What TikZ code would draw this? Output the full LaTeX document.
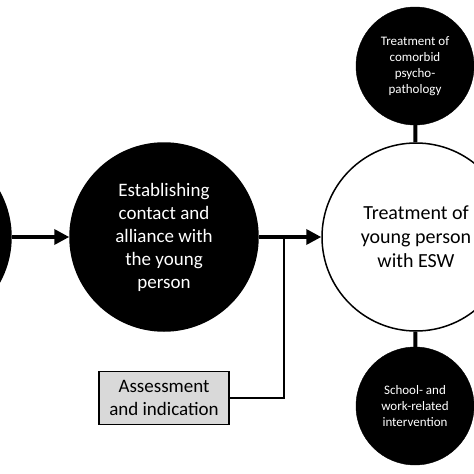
\documentclass[tikz,border=0pt]{standalone}
\usepackage{fontspec}
\setmainfont{Carlito}
\usetikzlibrary{positioning, arrows.meta}

\begin{document}
\begin{tikzpicture}[x=1pt, y=-1pt,
              every node/.style = {align=center},
              stage/.style = {circle, draw, fill=black, text=white,
                minimum size=188pt, inner sep=0pt, line width=1.5pt,
                font=\fontsize{19}{23}\selectfont},
              goal/.style = {circle, draw, fill=white,
                minimum size=188pt, inner sep=0pt, line width=1.5pt,
                font=\fontsize{20}{24}\selectfont},
              branch/.style = {circle, draw, fill=black, text=white,
                minimum size=118pt, inner sep=0pt,
                font=\fontsize{13}{16}\selectfont},
              assess/.style = {rectangle, draw, fill=black!15, line width=1.2pt,
                minimum width=130pt, minimum height=53pt, inner sep=0pt,
                font=\fontsize{19}{23}\selectfont},
              flow/.style = {line width=3.5pt, -{Triangle[length=15pt,width=15pt]}},
              link/.style = {line width=4pt},
              feed/.style = {line width=1.5pt}]
  \useasboundingbox (0,0) rectangle (474,474);
  \clip (0,0) rectangle (474,474);
  \node[stage] (prev) at (-83,237) {};
  \node[stage] (contact) at (164,237) {Establishing\\contact and\\alliance with\\the young\\person};
  \node[goal] (treat) at (416,237) {Treatment of\\young person\\with ESW};
  \node[branch] (comorbid) at (415,66) {Treatment of\\comorbid\\psycho-\\pathology};
  \node[branch] (school) at (415,406) {School- and\\work-related\\intervention};
  \node[assess] (assessment) at (164,398) {Assessment\\and indication};
  \coordinate (join) at (284,237);
  \draw[flow] (prev) -- (contact);
  \draw[flow] (contact) -- (treat);
  \draw[feed] (assessment.east) -| (join);
  \draw[link] (comorbid) -- (treat);
  \draw[link] (treat) -- (school);
\end{tikzpicture}
\end{document}
